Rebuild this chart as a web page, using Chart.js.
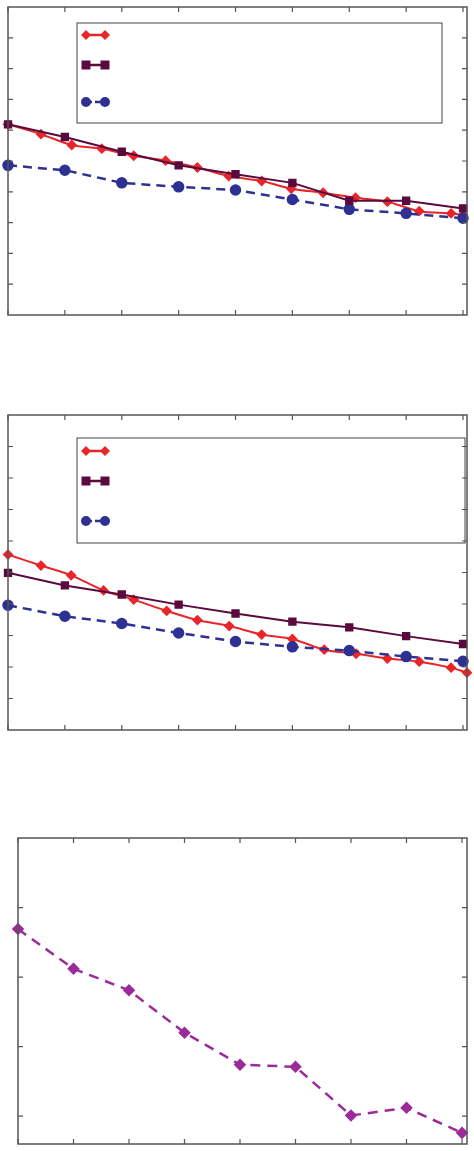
<!DOCTYPE html>
<html><head><meta charset="utf-8">
<script src="https://cdn.jsdelivr.net/npm/chart.js@4/dist/chart.umd.min.js"></script>
<style>body{margin:0;background:#fff;width:474px;height:1151px;position:relative;overflow:hidden}
.c{position:absolute;left:0}</style></head><body>
<div class="c" style="top:0;width:474px;height:330px"><canvas id="c1"></canvas></div>
<div class="c" style="top:405px;width:474px;height:340px"><canvas id="c2"></canvas></div>
<div class="c" style="top:828px;width:474px;height:323px"><canvas id="c3"></canvas></div>
<script>
// Panel 1
const p1DiamondX = [0,0.58,1.12,1.65,2.21,2.77,3.33,3.88,4.46,4.98,5.54,6.11,6.67,7.23,7.79,8.0];
const p1DiamondY = [6.19,5.87,5.52,5.40,5.17,5.01,4.79,4.51,4.35,4.10,3.97,3.81,3.68,3.37,3.30,3.24];
const p1SquareX = [0,1,2,3,4,5,6,7,8];
const p1SquareY = [6.19,5.78,5.30,4.86,4.57,4.29,3.71,3.71,3.46];
const p1CircleY = [4.86,4.70,4.29,4.16,4.06,3.75,3.43,3.30,3.14];
// Panel 2
const p2DiamondX = [0,0.58,1.11,1.68,2.21,2.79,3.33,3.89,4.46,5.0,5.56,6.12,6.67,7.23,7.79,8.07];
const p2DiamondY = [5.57,5.22,4.91,4.43,4.14,3.78,3.49,3.30,3.03,2.89,2.55,2.42,2.27,2.17,1.98,1.82];
const p2SquareY = [4.99,4.59,4.30,3.98,3.70,3.44,3.26,2.98,2.73];
const p2CircleY = [3.96,3.61,3.38,3.08,2.81,2.64,2.52,2.33,2.18];
// Panel 3
const p3Y = [3.69,3.12,2.81,2.20,1.74,1.71,1.01,1.12,0.76];

const RED='#e8262a', PLUM='#5a0a3c', BLUE='#2e3192', MAG='#9b2a9b';
const pts=(xs,ys)=>ys.map((y,i)=>({x:xs[i],y}));

const frame = {
  id:'frame',
  afterDraw(ch, a, o){
    const c=ch.ctx, A=ch.chartArea, xs=ch.scales.x, ys=ch.scales.y;
    c.save(); c.strokeStyle='#555'; c.lineWidth=1.5;
    c.strokeRect(A.left,A.top,A.right-A.left,A.bottom-A.top);
    c.lineWidth=1.2;
    for(let v=0; v<=8; v++){const px=xs.getPixelForValue(v);
      c.beginPath();c.moveTo(px,A.bottom);c.lineTo(px,A.bottom-5);c.moveTo(px,A.top);c.lineTo(px,A.top+5);c.stroke();}
    for(const v of o.yt){const py=ys.getPixelForValue(v);
      c.beginPath();c.moveTo(A.left,py);c.lineTo(A.left+5,py);c.moveTo(A.right,py);c.lineTo(A.right-5,py);c.stroke();}
    if(o.leg){
      const L=o.leg; c.lineWidth=1; c.strokeStyle='#444';
      c.strokeRect(L[0],L[1],L[2],L[3]);
      const items=[[RED,'rectRot',[]],[PLUM,'rect',[]],[BLUE,'circle',[6,3]]];
      const rows=o.rows;
      items.forEach((it,i)=>{const y=rows[i];
        c.strokeStyle=it[0]; c.fillStyle=it[0]; c.lineWidth=2.5; c.setLineDash(it[2]);
        c.beginPath();c.moveTo(86,y);c.lineTo(105,y);c.stroke();c.setLineDash([]);
        [86,105].forEach(x=>{c.beginPath();
          if(it[1]==='rectRot'){c.moveTo(x,y-5);c.lineTo(x+5,y);c.lineTo(x,y+5);c.lineTo(x-5,y);c.closePath();}
          else if(it[1]==='rect'){c.rect(x-4.5,y-4.5,9,9);}
          else c.arc(x,y,5,0,Math.PI*2);
          c.fill();});
      });
    }
    c.restore();
  }
};

function mk(id, datasets, ymin, ymax, xmax, pad, yt, leg, rows){
  new Chart(document.getElementById(id),{
    type:'line', data:{datasets},
    options:{responsive:true,maintainAspectRatio:false,animation:false,
      layout:{padding:pad},
      plugins:{legend:{display:false},tooltip:{enabled:false},frame:{yt,leg,rows}},
      scales:{x:{type:'linear',min:0,max:xmax,display:false},y:{min:ymin,max:ymax,display:false}}},
    plugins:[frame]});
}
const ds=(data,color,style,dash,tension,r,w)=>({data,borderColor:color,backgroundColor:color,pointStyle:style,
  pointRadius:r,borderWidth:w||2,borderDash:dash,tension,clip:false});

mk('c1',[
  ds(pts(p1SquareX,p1SquareY),PLUM,'rect',[],0,4.5),
  ds(pts(p1SquareX,p1CircleY),BLUE,'circle',[9,6],0,4.5,2.5),
  ds(pts(p1DiamondX,p1DiamondY),RED,'rectRot',[],0.3,4)
],0,10,8.07,{left:8,top:1,right:6,bottom:15},[1,2,3,4,5,6,7,8,9],[77,23,365,100],[35,65,102]);

mk('c2',[
  ds(pts(p1SquareX,p2SquareY),PLUM,'rect',[],0,4.5),
  ds(pts(p1SquareX,p2CircleY),BLUE,'circle',[9,6],0,4.5,2.5),
  ds(pts(p2DiamondX,p2DiamondY),RED,'rectRot',[],0.3,4)
],0,10,8.07,{left:8,top:10,right:6,bottom:15},[1,2,3,4,5,6,7,8,9],[77,33,388,105],[46,76,116]);

mk('c3',[ds(pts(p1SquareX,p3Y),MAG,'rectRot',[10,7],0,4.5,2.5)],
  0.6,5,8.09,{left:18,top:10,right:5,bottom:6},[1,2,3,4],null,null);
</script></body></html>
